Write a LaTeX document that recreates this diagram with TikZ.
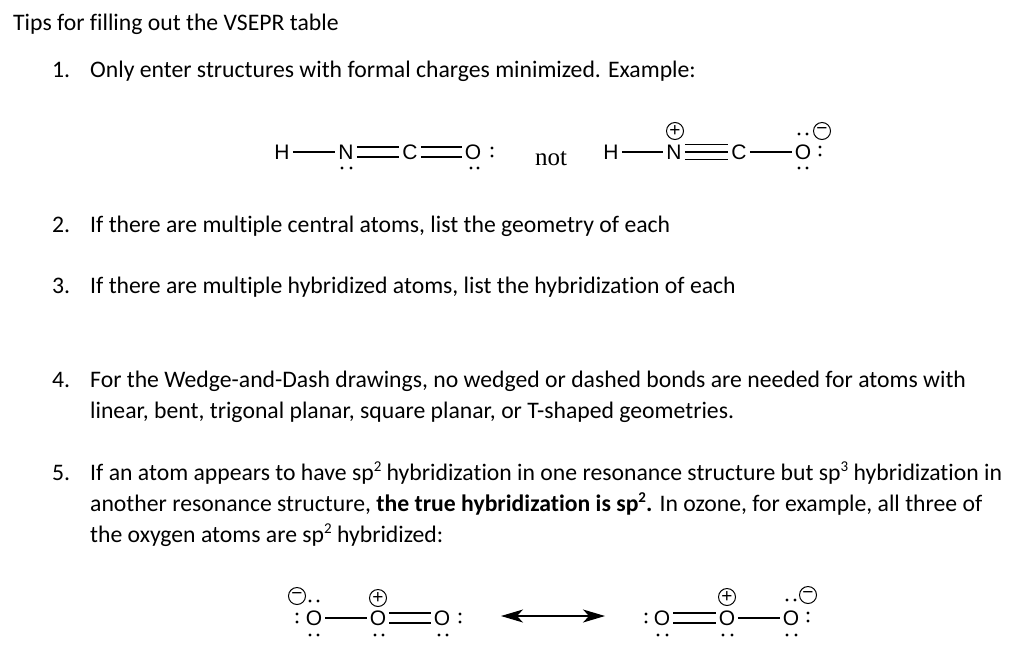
\documentclass[tikz,border=0pt]{standalone}
\usepackage{fontspec}
\usetikzlibrary{arrows.meta}
\setmainfont[Ligatures=NoCommon]{Carlito}
\newfontfamily\atomfont{Liberation Sans}
\newfontfamily\notfont{Liberation Serif}
\newcommand{\upnum}[1]{\raisebox{0.36em}{\fontsize{15}{15}\selectfont #1}}
\tikzset{
	tiptext/.style={anchor=base west, inner sep=0pt, font=\fontsize{23.7}{26}\selectfont},
	atom/.style={inner sep=3pt, font=\atomfont\fontsize{21}{22}\selectfont},
	charge/.style={draw, circle, line width=1pt, inner sep=0pt, minimum size=17pt, font=\atomfont\fontsize{19}{19}\selectfont},
	bond/.style={line width=1.2pt},
	lonedot/.style={black}
}
\newcommand{\dbond}[2]{
	\draw[bond, transform canvas={yshift=5pt}] (#1) -- (#2);
	\draw[bond, transform canvas={yshift=-5pt}] (#1) -- (#2);
}
\newcommand{\tbond}[2]{
	\draw[bond] (#1) -- (#2);
	\draw[bond, transform canvas={yshift=7.5pt}] (#1) -- (#2);
	\draw[bond, transform canvas={yshift=-7.5pt}] (#1) -- (#2);
}
\begin{document}
\begin{tikzpicture}[x=1pt, y=-1pt]
	\useasboundingbox (0,0) rectangle (1024,654);

	% text lines
	\node[tiptext] (title) at (13,30) {Tips for filling out the VSEPR table};
	\node[tiptext] (numa) at (52,77) {1.};
	\node[tiptext] (tipa) at (90,77) {Only enter structures with formal charges minimized.  Example:};
	\node[tiptext] (numb) at (52,232) {2.};
	\node[tiptext] (tipb) at (90,232) {If there are multiple central atoms, list the geometry of each};
	\node[tiptext] (numc) at (52,293) {3.};
	\node[tiptext] (tipc) at (90,293) {If there are multiple hybridized atoms, list the hybridization of each};
	\node[tiptext] (numd) at (52,387) {4.};
	\node[tiptext] (tipd) at (90,387) {For the Wedge-and-Dash drawings, no wedged or dashed bonds are needed for atoms with};
	\node[tiptext] (tipdd) at (90,418) {linear, bent, trigonal planar, square planar, or T-shaped geometries.};
	\node[tiptext] (nume) at (52,480) {5.};
	\node[tiptext] (tipe) at (90,480) {If an atom appears to have sp\upnum{2} hybridization in one resonance structure but sp\upnum{3} hybridization in};
	\node[tiptext] (tipee) at (90,511) {another resonance structure, \textbf{the true hybridization is sp\upnum{2}.}  In ozone, for example, all three of};
	\node[tiptext] (tipeee) at (90,542) {the oxygen atoms are sp\upnum{2} hybridized:};

	% first pair
	\node[atom] (ha) at (282,152) {H};
	\node[atom] (na) at (346,152) {N};
	\node[atom] (ca) at (410,152) {C};
	\node[atom] (oa) at (473,152) {O};
	\draw[bond] (ha) -- (na);
	\dbond{na}{ca}
	\dbond{ca}{oa}
	\foreach \x/\y in {342/168, 351/168, 471/168, 478/168, 492/148, 492/156}
		\fill[lonedot] (\x,\y) circle (1.6);

	\node[anchor=base, inner sep=0pt, font=\notfont\fontsize{25}{26}\selectfont] (nottext) at (551,165) {not};

	\node[atom] (hb) at (611,152) {H};
	\node[atom] (nb) at (674,152) {N};
	\node[atom] (cb) at (739,152) {C};
	\node[atom] (ob) at (803,152) {O};
	\node[charge] (plusb) at (675,131) {+};
	\node[charge] (minusb) at (822,131) {−};
	\draw[bond] (hb) -- (nb);
	\tbond{nb}{cb}
	\draw[bond] (cb) -- (ob);
	\foreach \x/\y in {799/134, 807/134, 799/168, 807/168, 820/147, 820/155}
		\fill[lonedot] (\x,\y) circle (1.6);

	% ozone
	\node[atom] (oc) at (314,618) {O};
	\node[atom] (od) at (378,618) {O};
	\node[atom] (oe) at (442,618) {O};
	\node[charge] (minusc) at (297,596) {−};
	\node[charge] (plusd) at (378,598) {+};
	\draw[bond] (oc) -- (od);
	\dbond{od}{oe}
	\foreach \x/\y in {310/601, 318/601, 297/614, 297/622, 310/635, 318/635, 375/635, 383/635, 439/635, 447/635, 460/614, 460/622}
		\fill[lonedot] (\x,\y) circle (1.6);

	\coordinate (arrowl) at (501,616);
	\coordinate (arrowr) at (605,616);
	\draw[line width=1.2pt, {Stealth[length=22pt, width=13pt, inset=6pt]}-{Stealth[length=22pt, width=13pt, inset=6pt]}] (arrowl) -- (arrowr);

	\node[atom] (of) at (662,618) {O};
	\node[atom] (og) at (727,618) {O};
	\node[atom] (oh) at (791,618) {O};
	\node[charge] (plusg) at (727,597) {+};
	\node[charge] (minush) at (808,595) {−};
	\dbond{of}{og}
	\draw[bond] (og) -- (oh);
	\foreach \x/\y in {646/614, 646/622, 658/635, 667/635, 723/635, 732/635, 787/635, 796/635, 787/600, 795/600, 808/613, 808/621}
		\fill[lonedot] (\x,\y) circle (1.6);
\end{tikzpicture}
\end{document}
